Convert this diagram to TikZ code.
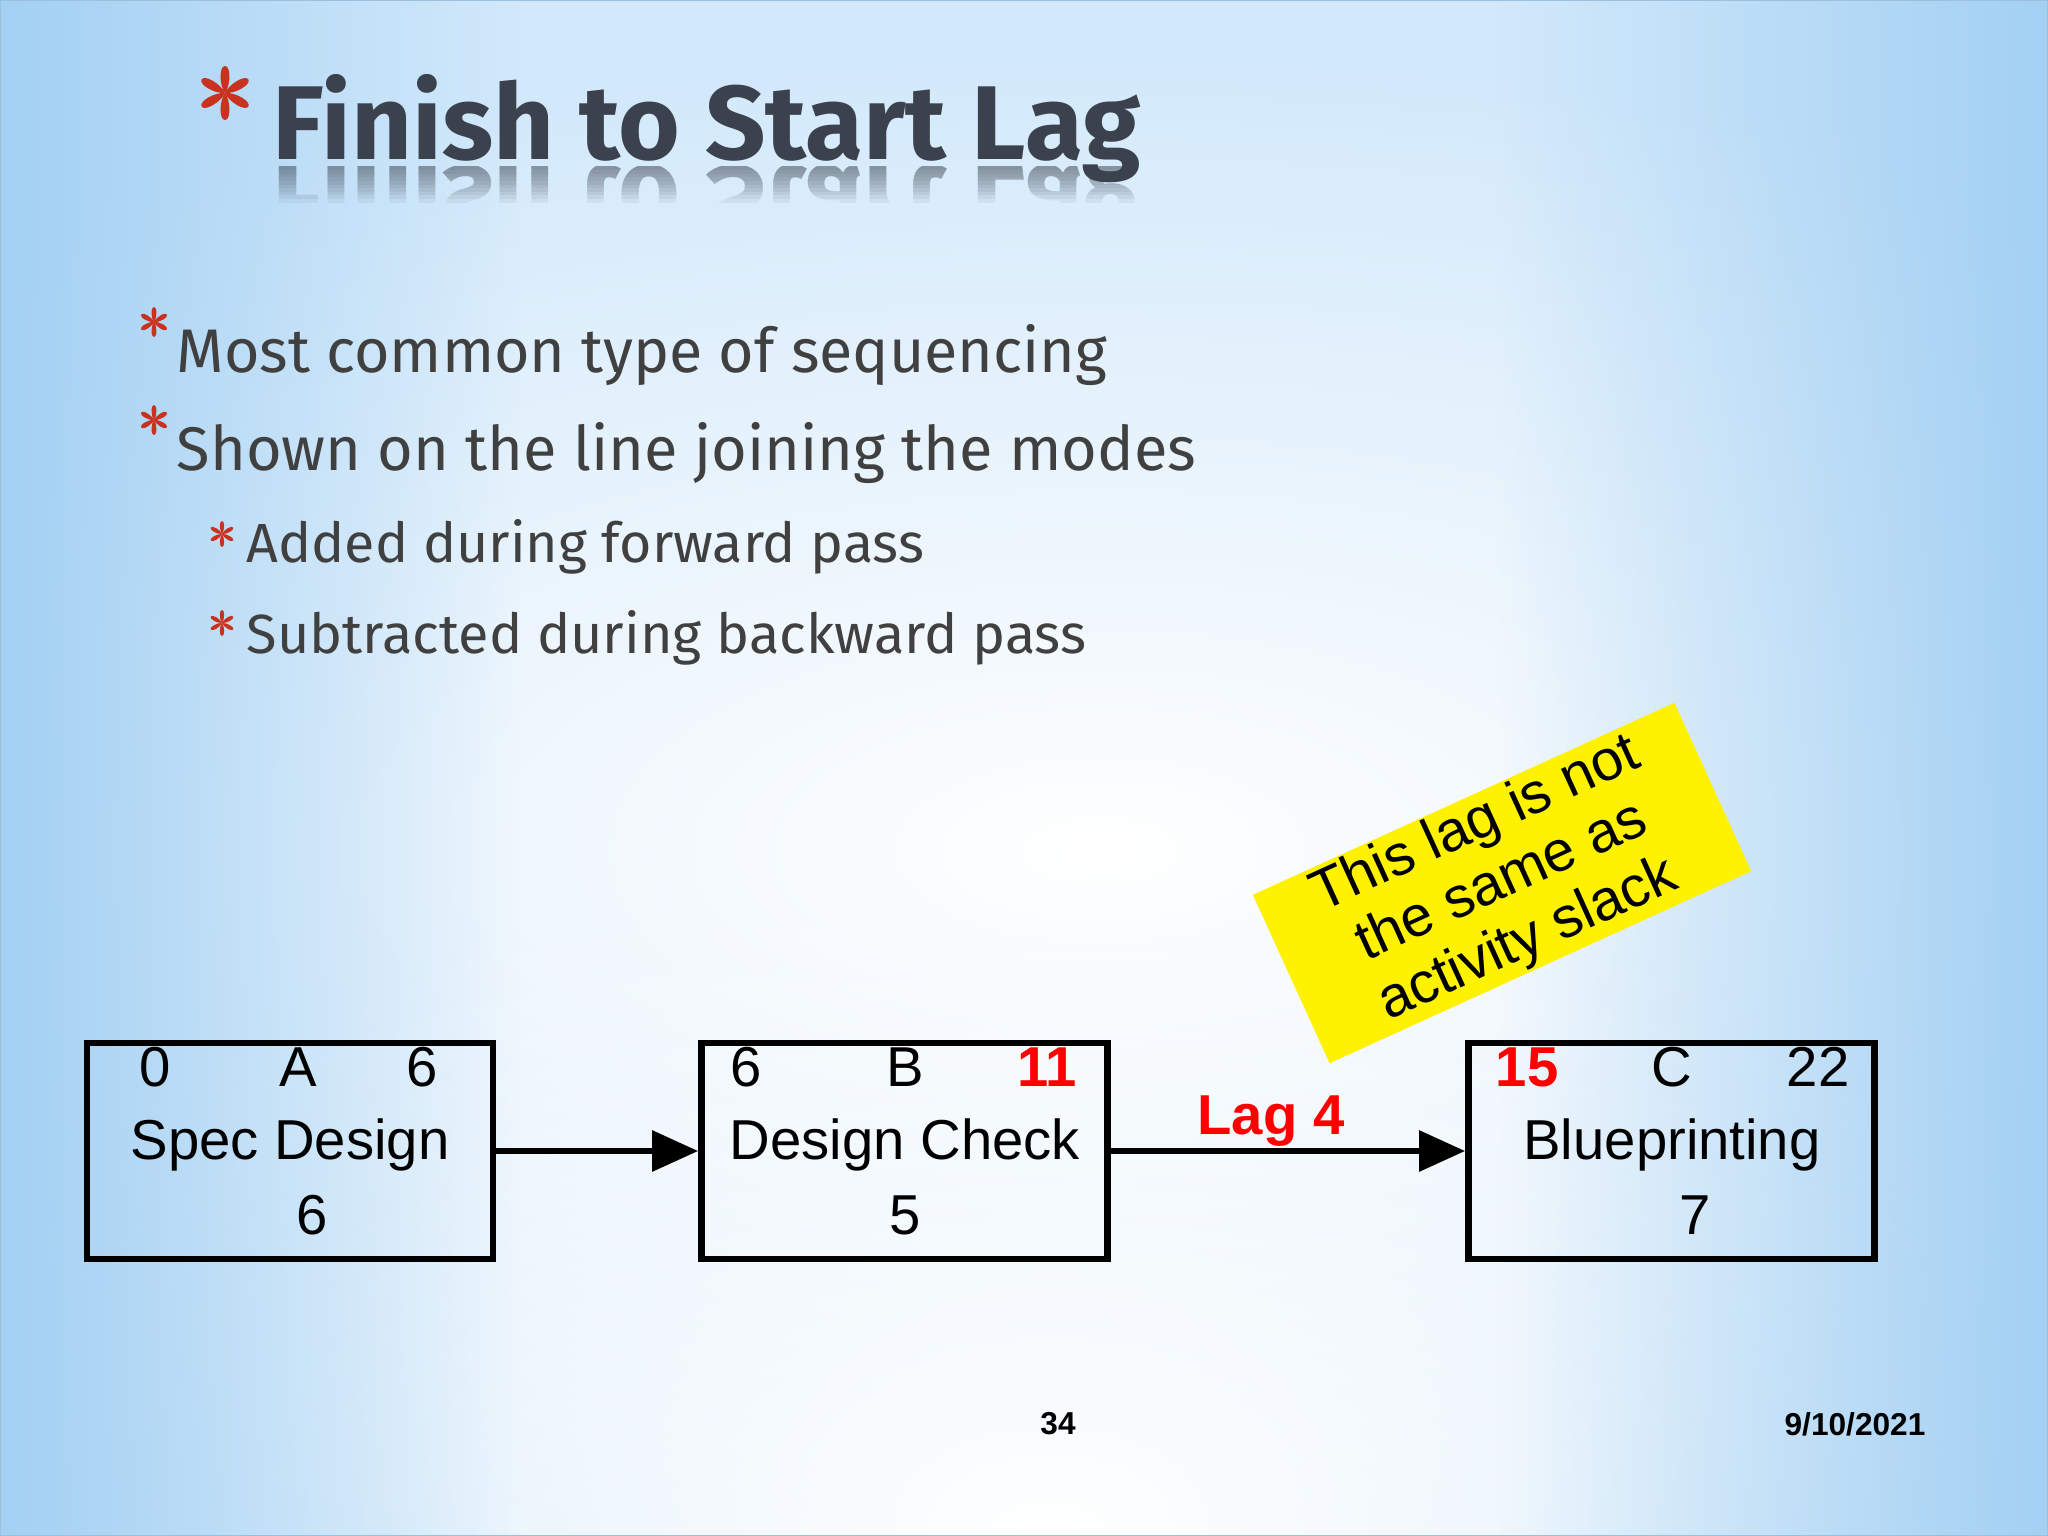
\documentclass[tikz,border=0pt]{standalone}
\usepackage{graphicx}
\usepackage{fontspec}
\setmainfont{Liberation Sans}
\newfontfamily\bodyfont{Fira Sans}
\usetikzlibrary{arrows.meta,fadings}
\definecolor{bgbase}{HTML}{D2E9FB}
\definecolor{edgeblue}{HTML}{A3D0F3}
\definecolor{txtgray}{HTML}{404040}
\definecolor{titlegray}{HTML}{3B424E}
\definecolor{astred}{HTML}{C8321E}
\definecolor{redtxt}{HTML}{FF0000}
\tikzfading[name=fadeRight, left color=transparent!0, right color=transparent!100]
\tikzfading[name=fadeLeft, left color=transparent!100, right color=transparent!0]
\tikzfading[name=rfade, inner color=transparent!0, outer color=transparent!100]
\tikzset{
  ast/.pic={
    \foreach \a in {90,30,-30,-90,-150,150}
      \fill[astred, rotate=\a] (0,0) .. controls (0.3,0.22) and (1,0.22) .. (1,0)
        .. controls (1,-0.22) and (0.3,-0.22) .. (0,0);
  },
  box/.style={draw=black, line width=1.85pt, minimum width=4.06cm, minimum height=2.16cm, inner sep=0pt},
  boxtxt/.style={anchor=base, inner sep=0pt, font=\fontsize{16}{19}\selectfont},
  redbold/.style={boxtxt, text=redtxt, font=\fontsize{16}{19}\selectfont\bfseries},
  arr/.style={line width=1.75pt, -{Triangle[length=0.46cm, width=0.40cm]}},
  note/.style={fill=yellow, rotate=24.5, minimum width=4.63cm, minimum height=1.85cm, align=center, inner sep=0pt, font=\fontsize{16.3}{18}\selectfont},
  bullet/.style={anchor=base west, inner sep=0pt, text=txtgray},
  foot/.style={anchor=center, inner sep=0pt, font=\fontsize{9}{11}\selectfont\bfseries}
}
\newcommand{\titletext}{\resizebox{8.67cm}{0.85cm}{\bodyfont\bfseries Finish to Start Lag}}
\begin{document}
\begin{tikzpicture}[x=0.01cm,y=-0.01cm]
\useasboundingbox (0,0) rectangle (2048,1536);
% background
\fill[bgbase] (0,0) rectangle (2048,1536);
\fill[white, path fading=rfade] (1100,850) ellipse [x radius=18cm, y radius=8cm];
\fill[white, path fading=rfade] (1050,1536) ellipse [x radius=12cm, y radius=7cm];
\fill[edgeblue, path fading=fadeRight] (0,0) rectangle (520,1536);
\fill[edgeblue, path fading=fadeLeft] (1500,0) rectangle (2048,1536);
\draw[edgeblue!80!gray, line width=0.6pt] (0,0) rectangle (2048,1536);

% title
\pic[scale=27] at (225,93) {ast};
\node[anchor=base west, inner sep=0pt, text=titlegray] (title) at (272,159) {\titletext};
\foreach \i in {1,...,10} {
  \begin{scope}
    \clip (250,166) rectangle (1180,{166+3.6*\i});
    \node[anchor=base west, inner sep=0pt, yscale=-1, text=titlegray, text opacity=0.065] (refl\i) at (272,166) {\titletext};
  \end{scope}
}

% bullets
\pic[scale=15] at (154,322) {ast};
\node[bullet] (b1) at (176,372) {\resizebox{9.30cm}{0.48cm}{\bodyfont Most common type of sequencing}};
\pic[scale=15] at (154,420) {ast};
\node[bullet] (b2) at (176,470) {\resizebox{10.19cm}{0.48cm}{\bodyfont Shown on the line joining the modes}};
\pic[scale=13] at (222,534) {ast};
\node[bullet] (b3) at (246,562) {\resizebox{6.77cm}{0.43cm}{\bodyfont Added during forward pass}};
\pic[scale=13] at (222,623) {ast};
\node[bullet] (b4) at (246,653) {\resizebox{8.39cm}{0.43cm}{\bodyfont Subtracted during backward pass}};

% note
\node[note] (note) at (1502,883) {This lag is not\\the same as\\activity slack};

% boxes
\node[box] (A) at (290,1151) {};
\node[box] (B) at (904.5,1151) {};
\node[box] (C) at (1671.5,1151) {};

\node[boxtxt] (Aes) at (155,1086) {0};
\node[boxtxt] (Aid) at (298,1086) {A};
\node[boxtxt] (Aef) at (422,1086) {6};
\node[boxtxt] (Aname) at (290,1159) {Spec Design};
\node[boxtxt] (Adur) at (312,1234) {6};

\node[boxtxt] (Bes) at (746,1086) {6};
\node[boxtxt] (Bid) at (905,1086) {B};
\node[redbold] (Bef) at (1047,1086) {11};
\node[boxtxt] (Bname) at (905,1159) {Design Check};
\node[boxtxt] (Bdur) at (905,1234) {5};

\node[redbold] (Ces) at (1527,1086) {15};
\node[boxtxt] (Cid) at (1672,1086) {C};
\node[boxtxt] (Cef) at (1818,1086) {22};
\node[boxtxt] (Cname) at (1672,1159) {Blueprinting};
\node[boxtxt] (Cdur) at (1695,1234) {7};

% connectors
\draw[arr] (A.east) -- (B.west);
\draw[arr] (B.east) -- (C.west);
\node[redbold] (lag) at (1271,1134) {Lag 4};

% footer
\node[foot] (page) at (1058,1424) {34};
\node[foot] (date) at (1855,1424) {9/10/2021};
\end{tikzpicture}
\end{document}
